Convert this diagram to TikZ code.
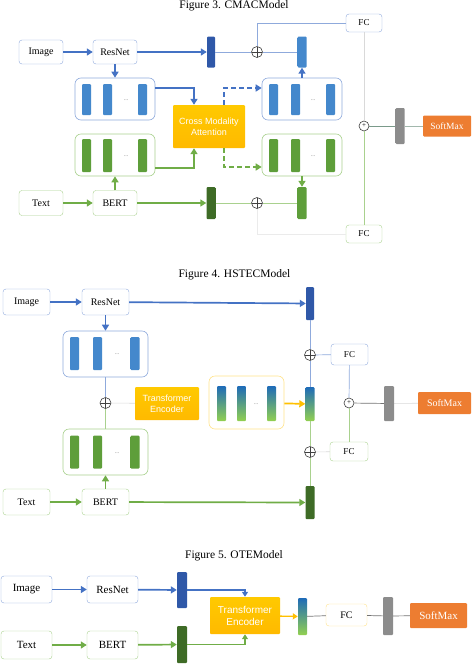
\documentclass[tikz,border=0pt]{standalone}
\usepackage{fontspec}
\setmainfont{Liberation Serif}
\setsansfont{Liberation Sans}
\usetikzlibrary{arrows.meta,calc}
\definecolor{bline}{HTML}{8FAADC}
\definecolor{barrow}{HTML}{4472C4}
\definecolor{gline}{HTML}{A9D18E}
\definecolor{garrow}{HTML}{70AD47}
\definecolor{yel}{HTML}{FFC000}
\definecolor{yline}{HTML}{FFE38A}
\definecolor{orng}{HTML}{ED7D31}
\definecolor{teal}{HTML}{7A9A8A}
\definecolor{fbA}{HTML}{4488CC}
\definecolor{fbB}{HTML}{6CA8E0}
\definecolor{dbA}{HTML}{2F58A8}
\definecolor{dbB}{HTML}{4472C4}
\definecolor{fgA}{HTML}{5E9E3A}
\definecolor{fgB}{HTML}{7CBA50}
\definecolor{dgA}{HTML}{3E6B26}
\definecolor{dgB}{HTML}{548235}
\definecolor{HTML1}{HTML}{1E6BB8}
\definecolor{HTML2}{HTML}{92D050}
\newcommand\myfs[1]{\fontsize{#1}{#1}\selectfont}
\tikzset{
  lbl/.style={draw, rounded corners=3pt, fill=white, inner sep=0pt, align=center},
  bbox/.style={lbl, draw=bline},
  gbox/.style={lbl, draw=gline},
  ybox/.style={lbl, draw=yline},
  fbox/.style={draw, rounded corners=6pt, inner sep=0pt, fill=white, line width=0.6pt},
  barbase/.style={rounded corners=1pt, inner sep=0pt, minimum width=9pt},
  bbar/.style={barbase, left color=fbA, middle color=fbB, right color=fbA},
  dbbar/.style={barbase, left color=dbA, middle color=dbB, right color=dbA},
  gbar/.style={barbase, left color=fgA, middle color=fgB, right color=fgA},
  dgbar/.style={barbase, left color=dgA, middle color=dgB, right color=dgA},
  grbar/.style={barbase, left color=black!45, middle color=black!30, right color=black!45},
  mixbar/.style={barbase, top color=HTML1, bottom color=HTML2},
  yelbox/.style={rounded corners=1pt, inner sep=0pt, top color=yel!85!yellow, bottom color=yel!90!orange, text=white, font=\sffamily\myfs{9}, align=center},
  soft/.style={rounded corners=1pt, inner sep=0pt, fill=orng, text=white},
  plusc/.style={circle, draw=black!75, line width=0.6pt, minimum size=11pt, inner sep=0pt, fill=white,
    path picture={\draw[black!75, line width=0.6pt] (path picture bounding box.north) -- (path picture bounding box.south) (path picture bounding box.west) -- (path picture bounding box.east);}},
  splus/.style={circle, draw=black!75, line width=0.6pt, minimum size=10pt, inner sep=0pt, fill=white, font=\myfs{7}},
  barr/.style={draw=barrow, line width=1.7pt, -{Triangle[length=6pt,width=7pt]}},
  garr/.style={draw=garrow, line width=1.7pt, -{Triangle[length=6pt,width=7pt]}},
  yarr/.style={draw=yel, line width=1.7pt, -{Triangle[length=6pt,width=7pt]}},
  thinb/.style={draw=bline, line width=0.7pt},
  thing/.style={draw=gline, line width=0.7pt},
  faint/.style={draw=black!15, line width=0.6pt},
  grl/.style={draw=black!55, line width=0.7pt},
  dots/.style={font=\myfs{6}, text=black!50, inner sep=0pt},
  ttl/.style={font=\myfs{11.5}, inner sep=0pt},
}
\begin{document}
\begin{tikzpicture}[x=1pt,y=-1pt]
\useasboundingbox (0,0) rectangle (474,667);
% ================= Figure 3 =================
\node[ttl] (t3) at (234,6) {Figure 3. CMACModel};
\node[bbox, minimum width=44pt, minimum height=24pt, font=\myfs{10}] (img3) at (41,52) {Image};
\node[bbox, minimum width=44pt, minimum height=24pt, font=\myfs{10}] (res3) at (115,52) {ResNet};
\node[dbbar, minimum width=8pt, minimum height=31pt] (bb3) at (211,52) {};
\node[plusc] (p3a) at (257,52) {};
\node[bbar, minimum height=31pt] (bb3r) at (302,52) {};
\node[bbox, minimum width=36pt, minimum height=18pt, font=\myfs{9}] (fc3a) at (364,23) {FC};
\node[splus] (sp3) at (364,126) {+};
\node[gbox, minimum width=36pt, minimum height=18pt, font=\myfs{9}] (fc3b) at (364,234) {FC};
\node[grbar, minimum height=36pt] (gr3) at (400,126) {};
\node[soft, minimum width=48pt, minimum height=21pt, font=\myfs{9.5}] (sm3) at (447,126) {SoftMax};
% feature boxes
\node[fbox, draw=bline, minimum width=80pt, minimum height=42pt] (fb3) at (115,99) {};
\node[bbar, minimum height=31pt] (fb3a) at (86.5,99.5) {};
\node[bbar, minimum height=31pt] (fb3b) at (107.5,99.5) {};
\node[dots] (fb3d) at (126,100) {...};
\node[bbar, minimum height=31pt] (fb3c) at (142.5,99.5) {};
\node[fbox, draw=bline, minimum width=80pt, minimum height=42pt] (fb3r) at (302,99) {};
\node[bbar, minimum height=31pt] (fb3ra) at (273.5,99.5) {};
\node[bbar, minimum height=31pt] (fb3rb) at (295.5,99.5) {};
\node[dots] (fb3rd) at (313,100) {...};
\node[bbar, minimum height=31pt] (fb3rc) at (330.5,99.5) {};
\node[fbox, draw=gline, minimum width=80pt, minimum height=42pt] (fg3) at (115,155) {};
\node[gbar, minimum height=33pt] (fg3a) at (86.5,155.5) {};
\node[gbar, minimum height=33pt] (fg3b) at (107.5,155.5) {};
\node[dots] (fg3d) at (126,156) {...};
\node[gbar, minimum height=33pt] (fg3c) at (142.5,155.5) {};
\node[fbox, draw=gline, minimum width=80pt, minimum height=42pt] (fg3r) at (302,155) {};
\node[gbar, minimum height=33pt] (fg3ra) at (273.5,155.5) {};
\node[gbar, minimum height=33pt] (fg3rb) at (295.5,155.5) {};
\node[dots] (fg3rd) at (313,156) {...};
\node[gbar, minimum height=33pt] (fg3rc) at (330.5,155.5) {};
\node[yelbox, minimum width=72pt, minimum height=43pt] (cma) at (209,126.5) {Cross Modality\\[2pt]Attention};
\node[gbox, minimum width=44pt, minimum height=25pt, font=\myfs{10}] (txt3) at (41,203) {Text};
\node[gbox, minimum width=44pt, minimum height=25pt, font=\myfs{10}] (bert3) at (115,203) {BERT};
\node[dgbar, minimum height=32pt] (gb3) at (211,203) {};
\node[plusc] (p3b) at (257,203) {};
\node[gbar, minimum height=32pt] (gb3r) at (302,203) {};
% connectors
\draw[barr] (img3) -- (res3);
\draw[barr] (res3) -- (bb3);
\draw[barr] (res3) -- (fb3);
\draw[barr] ([yshift=11pt]fb3.east) -| ([xshift=-15pt]cma.north);
\draw[barr, dashed, dash pattern=on 5pt off 3pt] ([xshift=15pt]cma.north) |- ([yshift=11pt]fb3r.west);
\draw[barr] (fb3r) -- (bb3r);
\draw[thinb] (bb3) -- (p3a);
\draw[thinb] (p3a) -- (bb3r);
\draw[thinb] (p3a) |- (fc3a);
\draw[faint] (fc3a) -- (sp3);
\draw[thing] (sp3) -- (fc3b);
\draw[draw=teal, line width=0.7pt] (sp3) -- (gr3);
\draw[draw=teal!70, line width=0.7pt] (gr3) -- (sm3);
\draw[garr] (txt3) -- (bert3);
\draw[garr] (bert3) -- (gb3);
\draw[garr] (bert3) -- (fg3);
\draw[garr] ([yshift=-13pt]fg3.east) -| ([xshift=-15pt]cma.south);
\draw[garr, dashed, dash pattern=on 5pt off 3pt] ([xshift=15pt]cma.south) |- ([yshift=-12pt]fg3r.west);
\draw[garr] (fg3r) -- (gb3r);
\draw[thing] (gb3) -- (p3b);
\draw[thing] (p3b) -- (gb3r);
\draw[draw=black!8, line width=0.6pt] (p3b) |- (fc3b);
% ================= Figure 4 =================
\node[ttl] (t4) at (234.5,275) {Figure 4. HSTECModel};
\node[bbox, minimum width=47pt, minimum height=26pt, font=\myfs{10}] (img4) at (26.5,302) {Image};
\node[bbox, minimum width=47pt, minimum height=26pt, font=\myfs{10}] (res4) at (105.5,302) {ResNet};
\node[dbbar, minimum width=8pt, minimum height=33pt] (bb4) at (310,303.5) {};
\node[fbox, draw=bline, minimum width=85pt, minimum height=46pt] (fb4) at (105.5,354) {};
\node[bbar, minimum height=33pt] (fb4a) at (74.5,353.5) {};
\node[bbar, minimum height=33pt] (fb4b) at (97.5,353.5) {};
\node[dots] (fb4d) at (117,354) {...};
\node[bbar, minimum height=33pt] (fb4c) at (135,353.5) {};
\node[plusc] (p4a) at (105.5,403) {};
\node[yelbox, minimum width=64pt, minimum height=33pt] (te4) at (167,403.5) {Transformer\\[2pt]Encoder};
\node[fbox, draw=gline, minimum width=85pt, minimum height=46pt] (fg4) at (105.5,452) {};
\node[gbar, minimum height=33pt] (fg4a) at (74.5,452) {};
\node[gbar, minimum height=33pt] (fg4b) at (97.5,452) {};
\node[dots] (fg4d) at (117,453) {...};
\node[gbar, minimum height=33pt] (fg4c) at (135,452) {};
\node[gbox, minimum width=47pt, minimum height=26pt, font=\myfs{10}] (txt4) at (26.5,502) {Text};
\node[gbox, minimum width=47pt, minimum height=26pt, font=\myfs{10}] (bert4) at (105.5,502) {BERT};
\node[dgbar, minimum height=33pt] (gb4) at (310,502.5) {};
\node[fbox, draw=yline, minimum width=75pt, minimum height=53pt] (gbx4) at (246.5,402.5) {};
\node[mixbar, minimum height=35pt] (gbx4a) at (221.5,403.5) {};
\node[mixbar, minimum height=35pt] (gbx4b) at (241.5,403.5) {};
\node[dots] (gbx4d) at (256,404) {...};
\node[mixbar, minimum height=35pt] (gbx4c) at (271.5,403.5) {};
\node[mixbar, minimum height=34pt] (gbar4) at (310,404) {};
\node[plusc] (p4b) at (310,355) {};
\node[plusc] (p4c) at (310,452) {};
\node[bbox, minimum width=37pt, minimum height=21pt, font=\myfs{9}] (fc4a) at (349.5,354.5) {FC};
\node[gbox, minimum width=38pt, minimum height=19pt, font=\myfs{9}] (fc4b) at (349,451.5) {FC};
\node[splus] (sp4) at (349,403) {+};
\node[grbar, minimum width=10pt, minimum height=35pt] (gr4) at (389,403.5) {};
\node[soft, minimum width=53pt, minimum height=22pt, font=\myfs{10}] (sm4) at (444.5,403) {SoftMax};
\draw[barr] (img4) -- (res4);
\draw[barr] (res4) -- (bb4);
\draw[barr] (res4) -- (fb4);
\draw[thinb] (fb4) -- (p4a);
\draw[thing] (p4a) -- (fg4);
\draw[faint] (p4a) -- (te4);
\draw[garr] (txt4) -- (bert4);
\draw[garr] (bert4) -- (fg4);
\draw[garr] (bert4) -- (gb4);
\draw[yarr] (gbx4) -- (gbar4);
\draw[thinb] (bb4) -- (p4b);
\draw[thinb] (p4b) -- (gbar4);
\draw[thing] (gbar4) -- (p4c);
\draw[thing] (p4c) -- (gb4);
\draw[thinb] (p4b) -- (fc4a);
\draw[faint] (p4c) -- (fc4b);
\draw[thinb] (fc4a) -- (sp4);
\draw[thing] (sp4) -- (fc4b);
\draw[grl] (sp4) -- (gr4);
\draw[faint] (gr4) -- (sm4);
% ================= Figure 5 =================
\node[ttl] (t5) at (234,556) {Figure 5. OTEModel};
\node[bbox, minimum width=51pt, minimum height=27pt, font=\myfs{11}] (img5) at (26.5,589.5) {Image};
\node[bbox, minimum width=51pt, minimum height=27pt, font=\myfs{11}] (res5) at (112.5,589.5) {ResNet};
\node[dbbar, minimum width=10pt, minimum height=36pt] (bb5) at (182,590) {};
\node[gbox, minimum width=51pt, minimum height=28pt, font=\myfs{11}] (txt5) at (26.5,645) {Text};
\node[gbox, minimum width=51pt, minimum height=28pt, font=\myfs{11}] (bert5) at (112.5,645) {BERT};
\node[dgbar, minimum width=10pt, minimum height=37pt] (gb5) at (182,644.5) {};
\node[yelbox, minimum width=70pt, minimum height=37pt, font=\sffamily\myfs{10}] (te5) at (245,615.5) {Transformer\\[2pt]Encoder};
\node[mixbar, minimum height=37pt] (gbar5) at (302.5,616.5) {};
\node[ybox, minimum width=41pt, minimum height=22pt, font=\myfs{10}] (fc5) at (346.5,615) {FC};
\node[grbar, minimum width=10pt, minimum height=38pt] (gr5) at (388,616) {};
\node[soft, minimum width=57pt, minimum height=25pt, font=\myfs{11}] (sm5) at (438.5,615.5) {SoftMax};
\draw[barr] (img5) -- (res5);
\draw[barr] (res5) -- (bb5);
\draw[draw=barrow, line width=1.3pt, -{Triangle[length=5pt,width=6pt]}] (bb5.east) -| (te5.north);
\draw[garr] (txt5) -- (bert5);
\draw[garr] (bert5) -- (gb5);
\draw[draw=garrow, line width=1.3pt, -{Triangle[length=5pt,width=6pt]}] (gb5.east) -| (te5.south);
\draw[draw=yel, line width=1.3pt, -{Triangle[length=5pt,width=6pt]}] (te5) -- (gbar5);
\draw[grl] (gbar5) -- (fc5);
\draw[grl] (fc5) -- (gr5);
\draw[grl] (gr5) -- (sm5);
\end{tikzpicture}
\end{document}
